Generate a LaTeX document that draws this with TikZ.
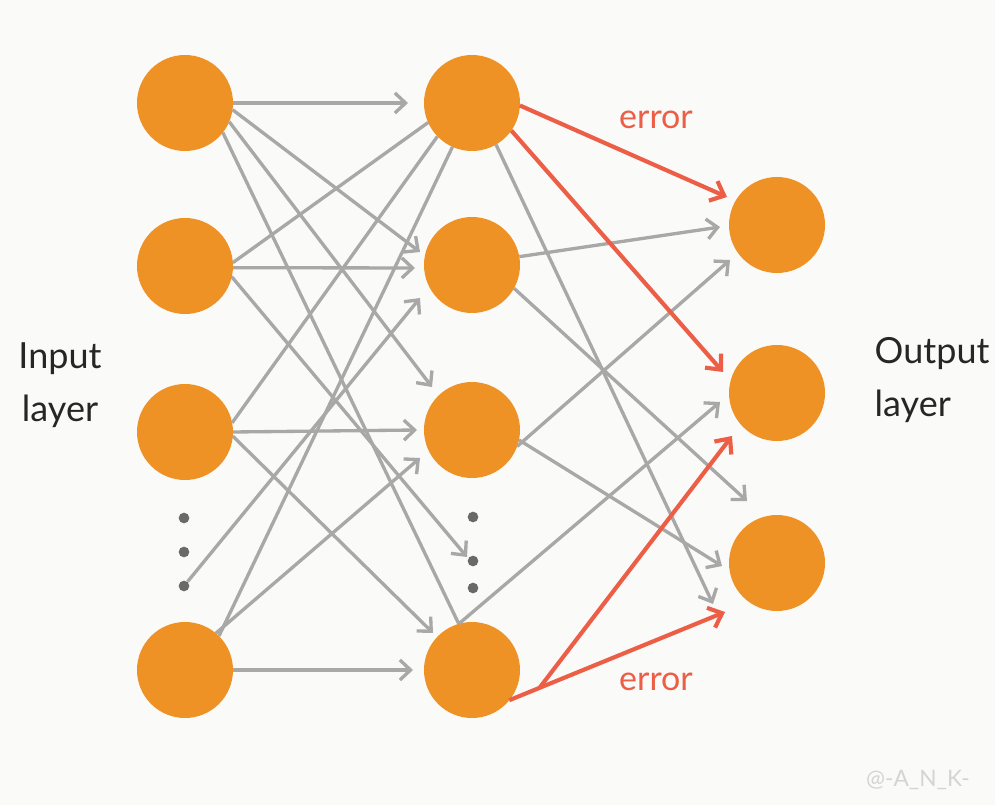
\documentclass[tikz,border=0pt]{standalone}
\usepackage{fontspec}
\setmainfont{Lato}
\usetikzlibrary{arrows.meta,calc}
\definecolor{bgwhite}{RGB}{250,250,248}
\definecolor{nodeorange}{RGB}{238,146,38}
\definecolor{wiregray}{RGB}{168,168,168}
\definecolor{errred}{RGB}{236,94,70}
\definecolor{dotgray}{RGB}{105,105,105}
\definecolor{txtgray}{RGB}{38,38,38}
\begin{document}
\begin{tikzpicture}[x=.75pt,y=-.75pt,
  neuron/.style={circle,fill=nodeorange,minimum size=72pt,inner sep=0pt,outer sep=0pt},
  smalldot/.style={circle,fill=dotgray,minimum size=8pt,inner sep=0pt},
  wire/.style={draw=wiregray,line width=2.5pt},
  wirearr/.style={wire,-{Straight Barb[length=8pt,width=15pt]}},
  errarr/.style={draw=errred,line width=3.1pt,-{Straight Barb[length=9pt,width=16pt]}},
  lbl/.style={text=txtgray,font=\fontsize{27}{40}\selectfont},
  errlbl/.style={text=errred,font=\fontsize{25.5}{28}\selectfont}]
\fill[bgwhite] (0,0) rectangle (995,805);
\useasboundingbox (0,0) rectangle (995,805);
% layers
\foreach \y [count=\i] in {103,266,432,670} \node[neuron] (I\i) at (185,\y) {};
\foreach \y [count=\i] in {103,265,430,670} \node[neuron] (H\i) at (472,\y) {};
\foreach \y [count=\i] in {225,393,563} \node[neuron] (O\i) at (777,\y) {};
\foreach \y [count=\i] in {518,552,586} \node[smalldot] (id\i) at (184,\y) {};
\foreach \y [count=\i] in {517,561,588} \node[smalldot] (hd\i) at (473,\y) {};
% input -> hidden
\draw[wirearr] (I1.east) -- ($(H1)+(-64,0)$);
\draw[wirearr] (I1.-8) -- ($(H2)+(-52,-13)$);
\draw[wirearr] (I1.-23) -- ($(H3)+(-40,-43)$);
\draw[wire] (I1.-38) -- (H4.106);
\draw[wire] (I2.4) -- (H1.204);
\draw[wirearr] (I2.-2) -- ($(H2)+(-57,3)$);
\draw[wirearr] (I2.-13) -- ($(hd2)+(-6,-4)$);
\draw[wire] (I3.11) -- (H1.224);
\draw[wirearr] (I3.east) -- ($(H3)+(-55,0)$);
\draw[wirearr] (I3.-5) -- ($(H4)+(-39,-37)$);
\draw[wire] (I4.45) -- (H1.246);
\draw[wirearr] (I4.50) -- ($(H3)+(-52,28)$);
\draw[wirearr] (I4.east) -- ($(H4)+(-59,0)$);
\draw[wirearr] (id3) -- ($(H2)+(-52,33)$);
% hidden -> output
\draw[wirearr] (H1.-60) -- ($(O3)+(-64,41)$);
\draw[wirearr] (H2.10) -- ($(O1)+(-57,2)$);
\draw[wirearr] (H2.-29) -- ($(O3)+(-30,-62)$);
\draw[wirearr] (H3.-20) -- ($(O1)+(-47,35)$);
\draw[wirearr] (H3.-12) -- ($(O3)+(-55,3)$);
\draw[wirearr] (H4.106) -- ($(O2)+(-57,9)$);
\draw[errarr] (H1.-3) -- ($(O1)+(-50,-28)$);
\draw[errarr] (H1.-35) -- ($(O2)+(-54,-21)$);
\coordinate (O3err) at ($(O3)+(-52,49)$);
\coordinate (split) at ($(H4.-39)!.14!(O3err)$);
\draw[errarr] (H4.-39) -- (O3err);
\draw[errarr] (split) -- ($(O2)+(-45,43)$);
% labels
\node[lbl,align=center] (inlbl) at (60,385) {Input\\layer};
\node[lbl,align=left,anchor=west] (outlbl) at (870,380) {Output\\layer};
\node[errlbl] (errtop) at (656,120) {error};
\node[errlbl] (errbot) at (656,682) {error};
\node[text=black!17,font=\fontsize{17}{19}\selectfont] (wmark) at (918,780) {@-A\_N\_K-};
\end{tikzpicture}
\end{document}
